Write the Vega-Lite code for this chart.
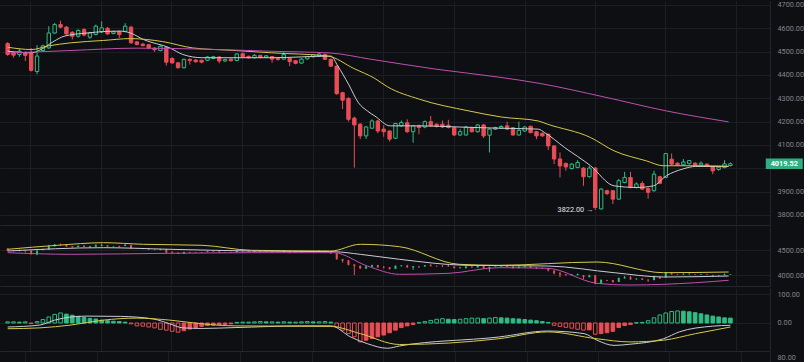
{
"$schema": "https://vega.github.io/schema/vega-lite/v6.json",
"background": "#0e0f12",
"padding": 0,
"spacing": 1,
"config": {
 "view": {"stroke": null},
 "axis": {"labelFont": "Roboto", "labelFontSize": 7.3, "labelColor": "#80858f", "gridColor": "#1c1e23", "gridWidth": 1, "domainColor": "#23262c", "ticks": false, "title": null, "labelOverlap": false, "tickCount": 30},
 "text": {"font": "Roboto"}
},
"resolve": {"scale": {"x": "independent", "y": "independent", "color": "independent"}},
"datasets": {
 "candles": [
  {"i":0,"o":4535,"h":4541,"l":4482,"c":4488},{"i":1,"o":4495,"h":4502,"l":4474,"c":4485},{"i":2,"o":4488,"h":4514,"l":4478,"c":4502},{"i":3,"o":4495,"h":4502,"l":4460,"c":4484},
  {"i":4,"o":4492,"h":4516,"l":4415,"c":4420},{"i":5,"o":4415,"h":4528,"l":4403,"c":4481},{"i":6,"o":4505,"h":4530,"l":4500,"c":4525},{"i":7,"o":4516,"h":4609,"l":4512,"c":4580},
  {"i":8,"o":4580,"h":4623,"l":4576,"c":4616},{"i":9,"o":4616,"h":4633,"l":4600,"c":4605},{"i":10,"o":4605,"h":4610,"l":4572,"c":4576},{"i":11,"o":4583,"h":4588,"l":4552,"c":4566},
  {"i":12,"o":4566,"h":4596,"l":4560,"c":4591},{"i":13,"o":4595,"h":4600,"l":4566,"c":4571},{"i":14,"o":4562,"h":4585,"l":4555,"c":4580},{"i":15,"o":4574,"h":4616,"l":4570,"c":4609},
  {"i":16,"o":4585,"h":4630,"l":4580,"c":4602},{"i":17,"o":4600,"h":4606,"l":4572,"c":4576},{"i":18,"o":4578,"h":4590,"l":4574,"c":4585},{"i":19,"o":4586,"h":4590,"l":4559,"c":4573},
  {"i":20,"o":4587,"h":4622,"l":4583,"c":4609},{"i":21,"o":4605,"h":4611,"l":4534,"c":4538},{"i":22,"o":4542,"h":4545,"l":4527,"c":4531},{"i":23,"o":4532,"h":4538,"l":4522,"c":4526},
  {"i":24,"o":4530,"h":4533,"l":4510,"c":4516},{"i":25,"o":4515,"h":4519,"l":4500,"c":4508},{"i":26,"o":4505,"h":4527,"l":4502,"c":4523},{"i":27,"o":4518,"h":4522,"l":4440,"c":4455},
  {"i":28,"o":4471,"h":4475,"l":4448,"c":4452},{"i":29,"o":4452,"h":4456,"l":4428,"c":4431},{"i":30,"o":4431,"h":4470,"l":4428,"c":4467},{"i":31,"o":4467,"h":4472,"l":4445,"c":4462},
  {"i":32,"o":4464,"h":4468,"l":4452,"c":4457},{"i":33,"o":4463,"h":4466,"l":4450,"c":4455},{"i":34,"o":4463,"h":4480,"l":4460,"c":4477},{"i":35,"o":4471,"h":4482,"l":4468,"c":4478},
  {"i":36,"o":4477,"h":4480,"l":4450,"c":4460},{"i":37,"o":4460,"h":4470,"l":4456,"c":4466},{"i":38,"o":4468,"h":4471,"l":4458,"c":4461},{"i":39,"o":4462,"h":4493,"l":4459,"c":4490},
  {"i":40,"o":4491,"h":4496,"l":4475,"c":4478},{"i":41,"o":4480,"h":4483,"l":4470,"c":4474},{"i":42,"o":4474,"h":4490,"l":4471,"c":4484},{"i":43,"o":4484,"h":4487,"l":4472,"c":4476},
  {"i":44,"o":4476,"h":4485,"l":4473,"c":4482},{"i":45,"o":4479,"h":4482,"l":4452,"c":4468},{"i":46,"o":4472,"h":4475,"l":4462,"c":4466},{"i":47,"o":4468,"h":4499,"l":4465,"c":4488},
  {"i":48,"o":4471,"h":4474,"l":4438,"c":4457},{"i":49,"o":4461,"h":4464,"l":4446,"c":4450},{"i":50,"o":4451,"h":4472,"l":4448,"c":4468},{"i":51,"o":4469,"h":4482,"l":4466,"c":4479},
  {"i":52,"o":4478,"h":4490,"l":4475,"c":4487},{"i":53,"o":4481,"h":4496,"l":4478,"c":4490},{"i":54,"o":4488,"h":4492,"l":4464,"c":4467},{"i":55,"o":4467,"h":4470,"l":4434,"c":4438},
  {"i":56,"o":4438,"h":4441,"l":4315,"c":4320},{"i":57,"o":4324,"h":4328,"l":4254,"c":4292},{"i":58,"o":4300,"h":4304,"l":4200,"c":4210},{"i":59,"o":4215,"h":4222,"l":4003,"c":4186},
  {"i":60,"o":4189,"h":4194,"l":4125,"c":4139},{"i":61,"o":4139,"h":4182,"l":4126,"c":4177},{"i":62,"o":4172,"h":4210,"l":4168,"c":4203},{"i":63,"o":4203,"h":4208,"l":4150,"c":4160},
  {"i":64,"o":4168,"h":4185,"l":4135,"c":4157},{"i":65,"o":4160,"h":4163,"l":4115,"c":4125},{"i":66,"o":4129,"h":4195,"l":4125,"c":4192},{"i":67,"o":4182,"h":4205,"l":4178,"c":4196},
  {"i":68,"o":4195,"h":4210,"l":4152,"c":4157},{"i":69,"o":4157,"h":4185,"l":4110,"c":4182},{"i":70,"o":4182,"h":4188,"l":4146,"c":4175},{"i":71,"o":4177,"h":4205,"l":4172,"c":4200},
  {"i":72,"o":4200,"h":4224,"l":4178,"c":4182},{"i":73,"o":4189,"h":4193,"l":4175,"c":4179},{"i":74,"o":4189,"h":4205,"l":4173,"c":4177},{"i":75,"o":4185,"h":4208,"l":4171,"c":4175},
  {"i":76,"o":4174,"h":4178,"l":4138,"c":4143},{"i":77,"o":4143,"h":4168,"l":4138,"c":4157},{"i":78,"o":4143,"h":4182,"l":4140,"c":4177},{"i":79,"o":4174,"h":4178,"l":4153,"c":4157},
  {"i":80,"o":4157,"h":4190,"l":4153,"c":4186},{"i":81,"o":4186,"h":4190,"l":4130,"c":4139},{"i":82,"o":4142,"h":4172,"l":4068,"c":4168},{"i":83,"o":4168,"h":4178,"l":4164,"c":4175},
  {"i":84,"o":4172,"h":4185,"l":4169,"c":4179},{"i":85,"o":4182,"h":4200,"l":4165,"c":4168},{"i":86,"o":4174,"h":4177,"l":4140,"c":4143},{"i":87,"o":4143,"h":4200,"l":4140,"c":4163},
  {"i":88,"o":4160,"h":4180,"l":4157,"c":4177},{"i":89,"o":4180,"h":4183,"l":4150,"c":4153},{"i":90,"o":4157,"h":4160,"l":4125,"c":4139},{"i":91,"o":4150,"h":4153,"l":4135,"c":4139},
  {"i":92,"o":4146,"h":4149,"l":4078,"c":4096},{"i":93,"o":4096,"h":4099,"l":4018,"c":4040},{"i":94,"o":4040,"h":4068,"l":3961,"c":4010},{"i":95,"o":4021,"h":4025,"l":3990,"c":4006},
  {"i":96,"o":3999,"h":4022,"l":3995,"c":4018},{"i":97,"o":4004,"h":4035,"l":4000,"c":4025},{"i":98,"o":4001,"h":4005,"l":3925,"c":3964},{"i":99,"o":3964,"h":4010,"l":3960,"c":4001},
  {"i":100,"o":4001,"h":4005,"l":3822,"c":3832},{"i":101,"o":3826,"h":3915,"l":3824,"c":3911},{"i":102,"o":3904,"h":3908,"l":3885,"c":3892},{"i":103,"o":3904,"h":3907,"l":3847,"c":3868},
  {"i":104,"o":3868,"h":3955,"l":3865,"c":3947},{"i":105,"o":3939,"h":3985,"l":3936,"c":3961},{"i":106,"o":3961,"h":3985,"l":3914,"c":3918},{"i":107,"o":3918,"h":3940,"l":3914,"c":3933},
  {"i":108,"o":3935,"h":3945,"l":3908,"c":3911},{"i":109,"o":3914,"h":3917,"l":3870,"c":3897},{"i":110,"o":3904,"h":3990,"l":3900,"c":3975},{"i":111,"o":3964,"h":3968,"l":3932,"c":3936},
  {"i":112,"o":3961,"h":4066,"l":3958,"c":4063},{"i":113,"o":4039,"h":4063,"l":4014,"c":4018},{"i":114,"o":4022,"h":4026,"l":4010,"c":4015},{"i":115,"o":4015,"h":4040,"l":4012,"c":4027},
  {"i":116,"o":4020,"h":4036,"l":4016,"c":4033},{"i":117,"o":4022,"h":4026,"l":4010,"c":4014},{"i":118,"o":4014,"h":4030,"l":4011,"c":4022},{"i":119,"o":4018,"h":4021,"l":4006,"c":4010},
  {"i":120,"o":4006,"h":4009,"l":3975,"c":3989},{"i":121,"o":3995,"h":4008,"l":3990,"c":4005},{"i":122,"o":4003,"h":4035,"l":4000,"c":4019},{"i":123,"o":4012,"h":4025,"l":4008,"c":4019.52}
 ],
 "ma": [
  {"s":"MA7","i":0,"v":4502},{"s":"MA7","i":4.1,"v":4495},{"s":"MA7","i":5.8,"v":4511},{"s":"MA7","i":7.9,"v":4545},{"s":"MA7","i":9.6,"v":4566},{"s":"MA7","i":13.5,"v":4580},{"s":"MA7","i":19.2,"v":4588},{"s":"MA7","i":20.9,"v":4580},{"s":"MA7","i":23.1,"v":4552},{"s":"MA7","i":27.6,"v":4516},{"s":"MA7","i":29.8,"v":4488},{"s":"MA7","i":33.1,"v":4474},{"s":"MA7","i":44.9,"v":4474},{"s":"MA7","i":55,"v":4481},{"s":"MA7","i":56.2,"v":4438},{"s":"MA7","i":58,"v":4361},{"s":"MA7","i":59.7,"v":4281},{"s":"MA7","i":61.2,"v":4246},{"s":"MA7","i":62.5,"v":4224},{"s":"MA7","i":65.1,"v":4182},{"s":"MA7","i":70.1,"v":4182},{"s":"MA7","i":76.8,"v":4177},{"s":"MA7","i":83.5,"v":4172},{"s":"MA7","i":90.3,"v":4168},{"s":"MA7","i":91.4,"v":4153},{"s":"MA7","i":94.8,"v":4089},{"s":"MA7","i":99.2,"v":4011},{"s":"MA7","i":103.2,"v":3925},{"s":"MA7","i":107.1,"v":3918},{"s":"MA7","i":109.9,"v":3925},{"s":"MA7","i":112.1,"v":3968},{"s":"MA7","i":114.9,"v":3997},{"s":"MA7","i":117.1,"v":4008},{"s":"MA7","i":122.7,"v":4008},
  {"s":"MA25","i":0,"v":4519},{"s":"MA25","i":4.1,"v":4509},{"s":"MA25","i":6.8,"v":4524},{"s":"MA25","i":10.8,"v":4538},{"s":"MA25","i":16.3,"v":4548},{"s":"MA25","i":20.9,"v":4556},{"s":"MA25","i":26.4,"v":4543},{"s":"MA25","i":31.5,"v":4516},{"s":"MA25","i":38.7,"v":4505},{"s":"MA25","i":44.9,"v":4495},{"s":"MA25","i":54.5,"v":4481},{"s":"MA25","i":58.9,"v":4428},{"s":"MA25","i":62.5,"v":4385},{"s":"MA25","i":64.6,"v":4350},{"s":"MA25","i":70.1,"v":4296},{"s":"MA25","i":78.5,"v":4246},{"s":"MA25","i":84,"v":4220},{"s":"MA25","i":90.3,"v":4203},{"s":"MA25","i":91.9,"v":4189},{"s":"MA25","i":99.2,"v":4132},{"s":"MA25","i":103.2,"v":4075},{"s":"MA25","i":108.7,"v":4032},{"s":"MA25","i":111.6,"v":4011},{"s":"MA25","i":117.1,"v":4011},{"s":"MA25","i":122.7,"v":4009},
  {"s":"MA99","i":0,"v":4494},{"s":"MA99","i":10.8,"v":4505},{"s":"MA99","i":21.9,"v":4515},{"s":"MA99","i":33.1,"v":4511},{"s":"MA99","i":44.4,"v":4502},{"s":"MA99","i":55,"v":4494},{"s":"MA99","i":61.7,"v":4468},{"s":"MA99","i":72.9,"v":4425},{"s":"MA99","i":83.5,"v":4391},{"s":"MA99","i":90.3,"v":4365},{"s":"MA99","i":101.5,"v":4306},{"s":"MA99","i":112.1,"v":4246},{"s":"MA99","i":122.7,"v":4199}
 ],
 "boll": [
  {"s":"UP","i":0,"v":4520},{"s":"UP","i":8.45,"v":4600},{"s":"UP","i":16.3,"v":4652},{"s":"UP","i":23.1,"v":4620},{"s":"UP","i":33.1,"v":4600},{"s":"UP","i":41.5,"v":4500},{"s":"UP","i":55,"v":4486},{"s":"UP","i":60,"v":4620},{"s":"UP","i":66.7,"v":4572},{"s":"UP","i":76.8,"v":4220},{"s":"UP","i":83.5,"v":4200},{"s":"UP","i":100.3,"v":4266},{"s":"UP","i":111.6,"v":4052},{"s":"UP","i":122.7,"v":4066},
  {"s":"MB","i":0,"v":4486},{"s":"MB","i":16.3,"v":4552},{"s":"MB","i":27.6,"v":4520},{"s":"MB","i":41.5,"v":4486},{"s":"MB","i":55.5,"v":4472},{"s":"MB","i":60,"v":4420},{"s":"MB","i":66.7,"v":4320},{"s":"MB","i":78,"v":4200},{"s":"MB","i":91.9,"v":4186},{"s":"MB","i":103.2,"v":4052},{"s":"MB","i":111.6,"v":3966},{"s":"MB","i":122.7,"v":3986},
  {"s":"DN","i":0,"v":4452},{"s":"DN","i":10.8,"v":4420},{"s":"DN","i":27.6,"v":4440},{"s":"DN","i":41.5,"v":4452},{"s":"DN","i":55.5,"v":4452},{"s":"DN","i":61.2,"v":4186},{"s":"DN","i":66.7,"v":4020},{"s":"DN","i":75.1,"v":4040},{"s":"DN","i":83.5,"v":4152},{"s":"DN","i":91.9,"v":4140},{"s":"DN","i":100.3,"v":3840},{"s":"DN","i":105.9,"v":3806},{"s":"DN","i":117.1,"v":3852},{"s":"DN","i":122.7,"v":3900}
 ],
 "macd": [
  {"s":"DIF","i":0,"v":-14},{"s":"DIF","i":5.5,"v":-7},{"s":"DIF","i":8,"v":10},{"s":"DIF","i":10.8,"v":21},{"s":"DIF","i":13.5,"v":24},{"s":"DIF","i":19.2,"v":23},{"s":"DIF","i":24.8,"v":14},{"s":"DIF","i":27.6,"v":-3},{"s":"DIF","i":29.8,"v":-17},{"s":"DIF","i":33.1,"v":-19},{"s":"DIF","i":38.7,"v":-16},{"s":"DIF","i":50,"v":-10},{"s":"DIF","i":55,"v":-10},{"s":"DIF","i":58.4,"v":-49},{"s":"DIF","i":61.2,"v":-72},{"s":"DIF","i":64.6,"v":-88},{"s":"DIF","i":66.7,"v":-80},{"s":"DIF","i":83.5,"v":-49},{"s":"DIF","i":91.9,"v":-28},{"s":"DIF","i":98.1,"v":-37},{"s":"DIF","i":100.3,"v":-60},{"s":"DIF","i":103.2,"v":-78},{"s":"DIF","i":105.9,"v":-74},{"s":"DIF","i":111.6,"v":-55},{"s":"DIF","i":114.3,"v":-31},{"s":"DIF","i":120,"v":-11},{"s":"DIF","i":123,"v":-8},
  {"s":"DEA","i":0,"v":-20},{"s":"DEA","i":5.5,"v":-17},{"s":"DEA","i":10.8,"v":-7},{"s":"DEA","i":16.3,"v":10},{"s":"DEA","i":21.9,"v":17},{"s":"DEA","i":27.6,"v":10},{"s":"DEA","i":33.1,"v":-3},{"s":"DEA","i":38.7,"v":-10},{"s":"DEA","i":55,"v":-12},{"s":"DEA","i":60,"v":-37},{"s":"DEA","i":66.7,"v":-75},{"s":"DEA","i":83.5,"v":-55},{"s":"DEA","i":91.9,"v":-31},{"s":"DEA","i":100.3,"v":-55},{"s":"DEA","i":105.9,"v":-66},{"s":"DEA","i":111.6,"v":-60},{"s":"DEA","i":117.1,"v":-37},{"s":"DEA","i":123,"v":-14}
 ],
 "hist": [
  {"i":0,"v":4},{"i":1,"v":4},{"i":2,"v":3},{"i":3,"v":4},{"i":4,"v":-2},{"i":5,"v":5},{"i":6,"v":12},{"i":7,"v":21},{"i":8,"v":30},{"i":9,"v":35},
  {"i":10,"v":31},{"i":11,"v":27},{"i":12,"v":23},{"i":13,"v":19},{"i":14,"v":16},{"i":15,"v":14},{"i":16,"v":10},{"i":17,"v":8},{"i":18,"v":6},{"i":19,"v":5},
  {"i":20,"v":3},{"i":21,"v":-3},{"i":22,"v":-10},{"i":23,"v":-11},{"i":24,"v":-14},{"i":25,"v":-17},{"i":26,"v":-22},{"i":27,"v":-25},{"i":28,"v":-29},{"i":29,"v":-32},
  {"i":30,"v":-27},{"i":31,"v":-21},{"i":32,"v":-16},{"i":33,"v":-12},{"i":34,"v":-9},{"i":35,"v":-8},{"i":36,"v":-7},{"i":37,"v":-5},{"i":38,"v":-3},{"i":39,"v":2},
  {"i":40,"v":3},{"i":41,"v":3},{"i":42,"v":4},{"i":43,"v":5},{"i":44,"v":4},{"i":45,"v":4},{"i":46,"v":3},{"i":47,"v":4},{"i":48,"v":3},{"i":49,"v":3},
  {"i":50,"v":4},{"i":51,"v":5},{"i":52,"v":4},{"i":53,"v":4},{"i":54,"v":5},{"i":55,"v":3},{"i":56,"v":-14},{"i":57,"v":-25},{"i":58,"v":-37},{"i":59,"v":-48},
  {"i":60,"v":-66},{"i":61,"v":-60},{"i":62,"v":-54},{"i":63,"v":-48},{"i":64,"v":-42},{"i":65,"v":-34},{"i":66,"v":-25},{"i":67,"v":-16},{"i":68,"v":-10},{"i":69,"v":-5},
  {"i":70,"v":1},{"i":71,"v":5},{"i":72,"v":9},{"i":73,"v":13},{"i":74,"v":15},{"i":75,"v":13},{"i":76,"v":12},{"i":77,"v":13},{"i":78,"v":15},{"i":79,"v":17},
  {"i":80,"v":17},{"i":81,"v":15},{"i":82,"v":17},{"i":83,"v":19},{"i":84,"v":18},{"i":85,"v":17},{"i":86,"v":15},{"i":87,"v":14},{"i":88,"v":12},{"i":89,"v":10},
  {"i":90,"v":8},{"i":91,"v":5},{"i":92,"v":2},{"i":93,"v":-8},{"i":94,"v":-12},{"i":95,"v":-15},{"i":96,"v":-18},{"i":97,"v":-22},{"i":98,"v":-25},{"i":99,"v":-24},
  {"i":100,"v":-39},{"i":101,"v":-37},{"i":102,"v":-34},{"i":103,"v":-29},{"i":104,"v":-16},{"i":105,"v":-9},{"i":106,"v":-5},{"i":107,"v":1},{"i":108,"v":2},{"i":109,"v":8},
  {"i":110,"v":18},{"i":111,"v":28},{"i":112,"v":35},{"i":113,"v":40},{"i":114,"v":42},{"i":115,"v":41},{"i":116,"v":39},{"i":117,"v":36},{"i":118,"v":32},{"i":119,"v":28},
  {"i":120,"v":24},{"i":121,"v":21},{"i":122,"v":18},{"i":123,"v":17}
 ],
 "last": [{"p": 4019.52}],
 "low": [{"i": 100, "p": 3822, "label": "3822.00 →"}]
},
"vconcat": [
 {
  "width": 770, "height": 224,
  "layer": [
   {"data": {"name": "candles"}, "mark": {"type": "rule", "strokeWidth": 1},
    "encoding": {
     "x": {"field": "i", "type": "quantitative", "scale": {"domain": [-0.4536, 128.89], "nice": false, "zero": false},
           "axis": {"orient": "bottom", "labels": false, "ticks": false, "domain": true, "grid": true, "tickCount": 30, "values": [3.8, 15.85, 27.85, 39.9, 51.95, 63.95, 76, 88, 100, 111.95, 124]}},
     "y": {"field": "l", "type": "quantitative", "scale": {"domain": [3757.1, 4717.1], "nice": false, "zero": false},
           "axis": {"orient": "right", "values": [3800,3900,4000,4100,4200,4300,4400,4500,4600,4700], "tickCount": 30, "labelExpr": "datum.value == 4000 ? '' : format(datum.value, '.2f')", "labelOverlap": false, "grid": true, "domain": true, "labelPadding": 7}},
     "y2": {"field": "h"},
     "color": {"condition": {"test": "datum.c >= datum.o", "value": "#2ebd85"}, "value": "#ea4d55"}
    }},
   {"data": {"name": "candles"}, "mark": {"type": "bar", "size": 3.4, "strokeWidth": 1},
    "encoding": {
     "x": {"field": "i", "type": "quantitative", "scale": {"domain": [-0.4536, 128.89], "nice": false, "zero": false}},
     "y": {"field": "o", "type": "quantitative", "scale": {"domain": [3757.1, 4717.1], "nice": false, "zero": false}},
     "y2": {"field": "c"},
     "fill": {"condition": {"test": "datum.c >= datum.o", "value": "#0e0f12"}, "value": "#ea4d55"},
     "stroke": {"condition": {"test": "datum.c >= datum.o", "value": "#2ebd85"}, "value": "#ea4d55"}
    }},
   {"data": {"name": "ma"}, "mark": {"type": "line", "strokeWidth": 1, "interpolate": "monotone"},
    "encoding": {
     "x": {"field": "i", "type": "quantitative", "scale": {"domain": [-0.4536, 128.89], "nice": false, "zero": false}},
     "y": {"field": "v", "type": "quantitative", "scale": {"domain": [3757.1, 4717.1], "nice": false, "zero": false}},
     "color": {"field": "s", "type": "nominal", "scale": {"domain": ["MA7", "MA25", "MA99"], "range": ["#c9ccd6", "#d4c94b", "#bf4fae"]}, "legend": null}
    }},
   {"data": {"name": "last"}, "mark": {"type": "point", "shape": "M-1,-0.28L1,-0.28L1,0.28L-1,0.28Z", "filled": true, "size": 1369, "color": "#2eae81", "opacity": 1, "strokeWidth": 0},
    "encoding": {
     "x": {"datum": 132.17, "type": "quantitative", "scale": {"domain": [-0.4536, 128.89], "nice": false, "zero": false}},
     "y": {"field": "p", "type": "quantitative", "scale": {"domain": [3757.1, 4717.1], "nice": false, "zero": false}}
    }},
   {"data": {"name": "last"}, "mark": {"type": "text", "fontSize": 7.3, "fontWeight": "bold", "fill": "#ffffff", "align": "center", "baseline": "middle"},
    "encoding": {
     "x": {"datum": 132.17, "type": "quantitative", "scale": {"domain": [-0.4536, 128.89], "nice": false, "zero": false}},
     "y": {"field": "p", "type": "quantitative", "scale": {"domain": [3757.1, 4717.1], "nice": false, "zero": false}},
     "text": {"field": "p", "type": "quantitative", "format": ".2f"}
    }},
   {"data": {"name": "low"}, "mark": {"type": "text", "fontSize": 7.3, "fill": "#e6e6e6", "align": "right", "baseline": "middle", "dx": -2},
    "encoding": {
     "x": {"field": "i", "type": "quantitative", "scale": {"domain": [-0.4536, 128.89], "nice": false, "zero": false}},
     "y": {"field": "p", "type": "quantitative", "scale": {"domain": [3757.1, 4717.1], "nice": false, "zero": false}},
     "text": {"field": "label", "type": "nominal"}
    }}
  ]
 },
 {
  "width": 770, "height": 60,
  "layer": [
   {"data": {"name": "candles"}, "mark": {"type": "rule", "strokeWidth": 1},
    "encoding": {
     "x": {"field": "i", "type": "quantitative", "scale": {"domain": [-0.4536, 128.89], "nice": false, "zero": false},
           "axis": {"orient": "bottom", "labels": false, "ticks": false, "domain": true, "grid": true, "tickCount": 30, "values": [3.8, 15.85, 27.85, 39.9, 51.95, 63.95, 76, 88, 100, 111.95, 124]}},
     "y": {"field": "l", "type": "quantitative", "scale": {"domain": [3786, 4986], "nice": false, "zero": false},
           "axis": {"orient": "right", "values": [4000, 4500], "tickCount": 30, "format": ".2f", "labelOverlap": false, "grid": true, "domain": true, "labelPadding": 7}},
     "y2": {"field": "h"},
     "color": {"condition": {"test": "datum.c >= datum.o", "value": "#2ebd85"}, "value": "#ea4d55"}
    }},
   {"data": {"name": "candles"}, "mark": {"type": "bar", "size": 2},
    "encoding": {
     "x": {"field": "i", "type": "quantitative", "scale": {"domain": [-0.4536, 128.89], "nice": false, "zero": false}},
     "y": {"field": "o", "type": "quantitative", "scale": {"domain": [3786, 4986], "nice": false, "zero": false}},
     "y2": {"field": "c"},
     "color": {"condition": {"test": "datum.c >= datum.o", "value": "#2ebd85"}, "value": "#ea4d55"}
    }},
   {"data": {"name": "boll"}, "mark": {"type": "line", "strokeWidth": 1, "interpolate": "monotone"},
    "encoding": {
     "x": {"field": "i", "type": "quantitative", "scale": {"domain": [-0.4536, 128.89], "nice": false, "zero": false}},
     "y": {"field": "v", "type": "quantitative", "scale": {"domain": [3786, 4986], "nice": false, "zero": false}},
     "color": {"field": "s", "type": "nominal", "scale": {"domain": ["UP", "MB", "DN"], "range": ["#d4c94b", "#c9ccd6", "#bf4fae"]}, "legend": null}
    }}
  ]
 },
 {
  "width": 770, "height": 63,
  "layer": [
   {"data": {"name": "hist"},
    "transform": [{"window": [{"op": "lag", "field": "v", "param": 1, "as": "pv"}], "sort": [{"field": "i", "order": "ascending"}]}],
    "mark": {"type": "bar", "size": 3.6, "strokeWidth": 1},
    "encoding": {
     "x": {"field": "i", "type": "quantitative", "scale": {"domain": [-0.4536, 128.89], "nice": false, "zero": false},
           "axis": {"orient": "bottom", "labels": false, "ticks": false, "domain": true, "grid": true, "tickCount": 30, "values": [3.8, 15.85, 27.85, 39.9, 51.95, 63.95, 76, 88, 100, 111.95, 124]}},
     "y": {"field": "v", "type": "quantitative", "scale": {"domain": [-97.6, 121.95], "nice": false, "zero": false},
           "axis": {"orient": "right", "values": [0, 100], "tickCount": 30, "format": ".2f", "labelOverlap": false, "grid": true, "domain": true, "labelPadding": 7}},
     "y2": {"datum": 0},
     "fill": {"condition": [{"test": "abs(datum.v) >= abs(datum.pv || 0)", "value": "#0e0f12"}, {"test": "datum.v >= 0", "value": "#2ebd85"}], "value": "#ea4d55"},
     "stroke": {"condition": {"test": "datum.v >= 0", "value": "#2ebd85"}, "value": "#ea4d55"}
    }},
   {"data": {"name": "macd"}, "mark": {"type": "line", "strokeWidth": 1, "interpolate": "monotone"},
    "encoding": {
     "x": {"field": "i", "type": "quantitative", "scale": {"domain": [-0.4536, 128.89], "nice": false, "zero": false}},
     "y": {"field": "v", "type": "quantitative", "scale": {"domain": [-97.6, 121.95], "nice": false, "zero": false}},
     "color": {"field": "s", "type": "nominal", "scale": {"domain": ["DIF", "DEA"], "range": ["#c9ccd6", "#d4c94b"]}, "legend": null}
    }}
  ]
 },
 {
  "width": 770, "height": 11,
  "data": {"values": [{"r": 80}]},
  "mark": {"type": "rule", "strokeOpacity": 0},
  "encoding": {
   "x": {"datum": 0, "type": "quantitative", "scale": {"domain": [-0.4536, 128.89], "nice": false, "zero": false},
         "axis": {"orient": "bottom", "labels": false, "ticks": false, "domain": false, "grid": true, "tickCount": 30, "values": [3.8, 15.85, 27.85, 39.9, 51.95, 63.95, 76, 88, 100, 111.95, 124]}},
   "y": {"field": "r", "type": "quantitative", "scale": {"domain": [74, 85], "nice": false, "zero": false},
         "axis": {"orient": "right", "values": [80], "format": ".2f", "labelOverlap": false, "grid": false, "domain": true, "labelPadding": 7}}
  }
 }
]
}
